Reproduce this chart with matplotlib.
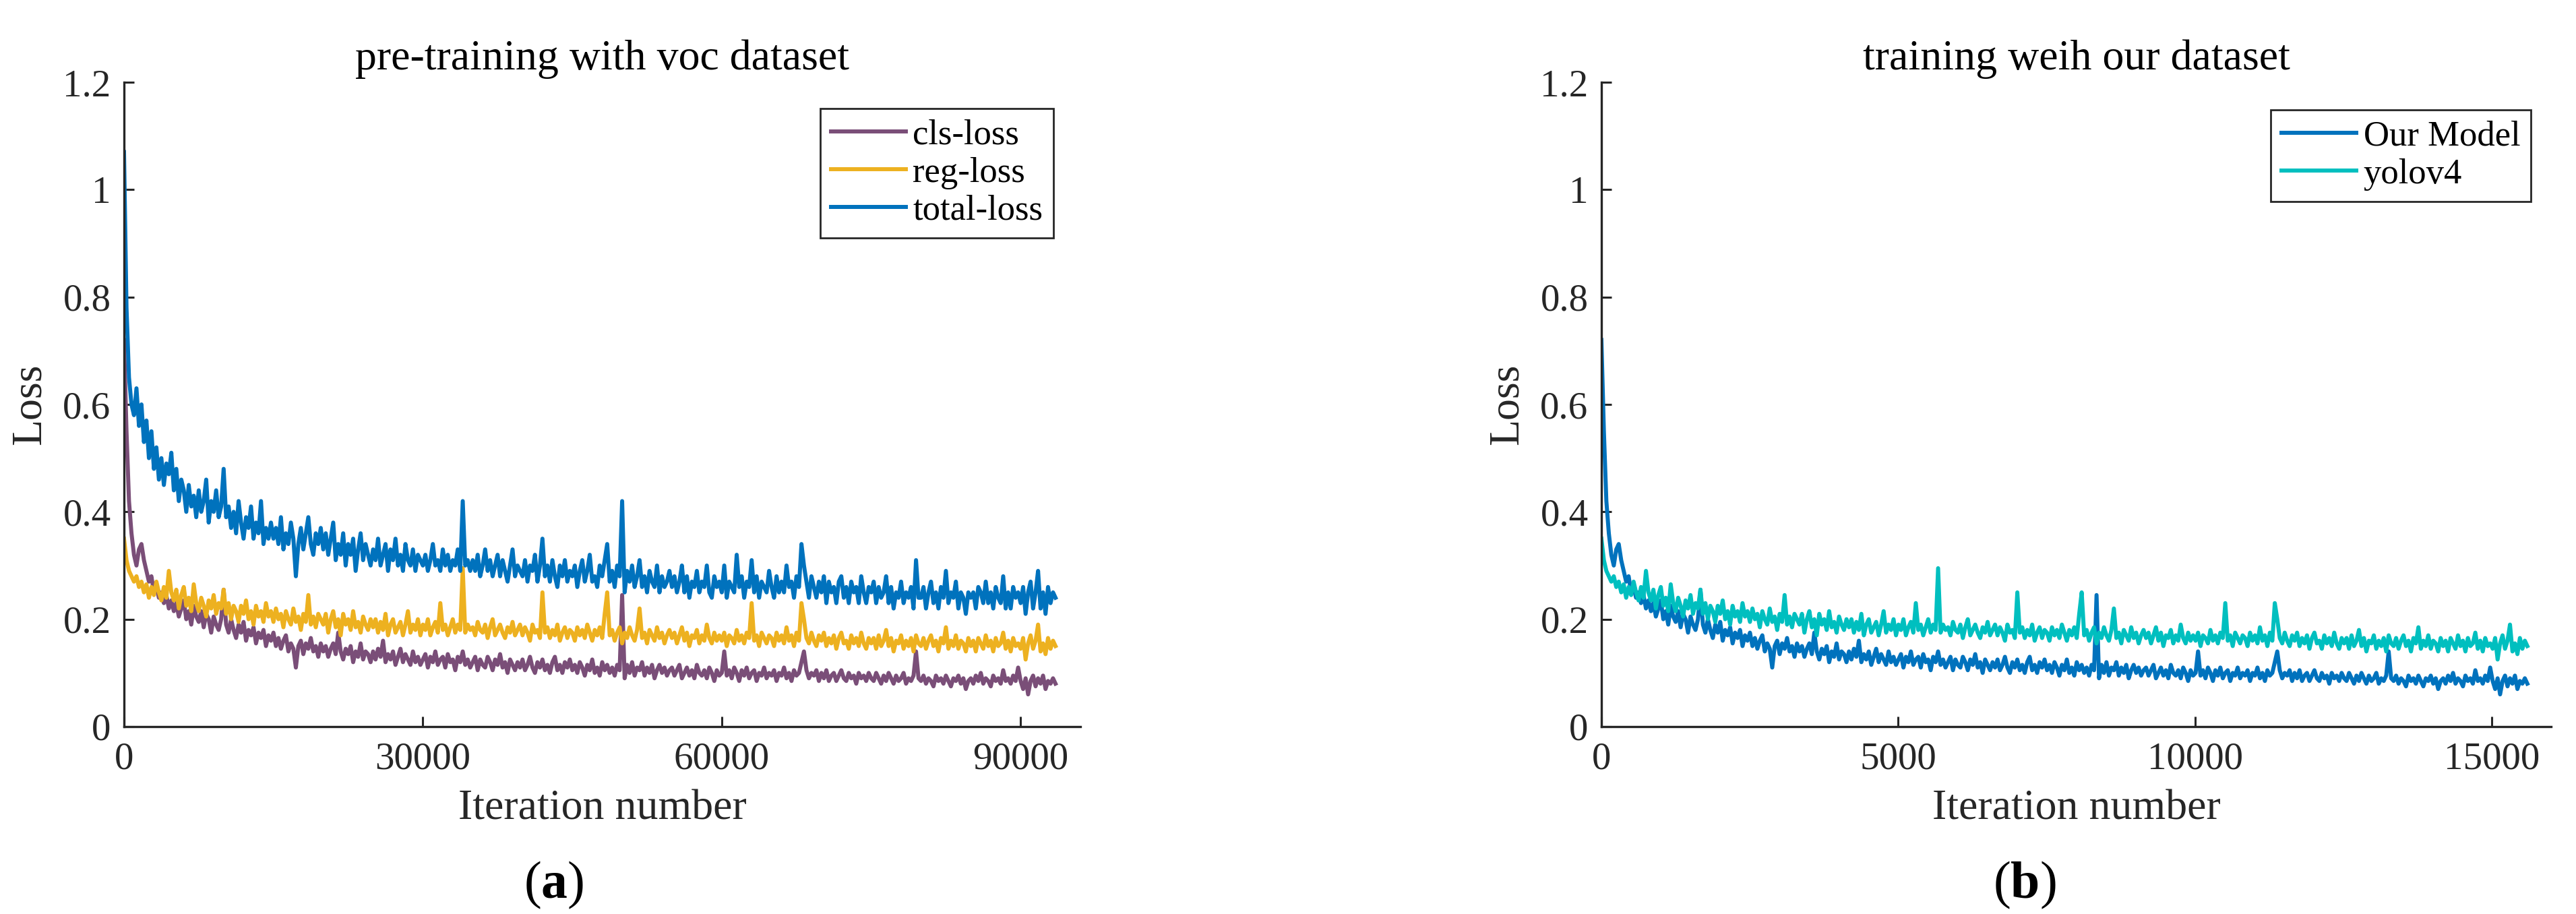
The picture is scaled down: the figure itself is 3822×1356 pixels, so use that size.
import numpy as np
import matplotlib
matplotlib.use("Agg")
import matplotlib.pyplot as plt

plt.rcParams['font.family'] = ['Liberation Serif', 'DejaVu Serif']
plt.rcParams['mathtext.fontset'] = 'custom'
plt.rcParams['mathtext.rm'] = 'Liberation Serif'
plt.rcParams['mathtext.bf'] = 'Liberation Serif:bold'

# ---------------- data ----------------
pre_last_iter = 93500      # panel (a) last iteration
our_last_iter = 15600      # panel (b) last iteration

# one value every 250 iterations (panel a)
cls_loss = [
    0.72, 0.55, 0.42, 0.36, 0.32, 0.30, 0.33, 0.34, 0.31, 0.29, 0.27, 0.28, 0.25, 0.26, 0.24, 0.25, 0.23, 0.245, 0.22, 0.235,
    0.215, 0.23, 0.205, 0.22, 0.235, 0.20, 0.215, 0.19, 0.225, 0.205, 0.195, 0.215, 0.185, 0.21, 0.20, 0.175, 0.205, 0.19, 0.18, 0.20,
    0.255, 0.19, 0.175, 0.20, 0.18, 0.165, 0.19, 0.175, 0.195, 0.16, 0.18, 0.17, 0.185, 0.155, 0.175, 0.165, 0.18, 0.15, 0.17, 0.16,
    0.175, 0.15, 0.165, 0.145, 0.16, 0.17, 0.14, 0.155, 0.145, 0.11, 0.15, 0.16, 0.135, 0.155, 0.145, 0.165, 0.14, 0.15, 0.13, 0.155,
    0.14, 0.15, 0.13, 0.145, 0.155, 0.135, 0.175, 0.14, 0.125, 0.145, 0.135, 0.15, 0.12, 0.14, 0.13, 0.155, 0.125, 0.14, 0.135, 0.12,
    0.14, 0.125, 0.145, 0.13, 0.16, 0.12, 0.135, 0.125, 0.14, 0.115, 0.13, 0.145, 0.12, 0.135, 0.125, 0.115, 0.14, 0.12, 0.13, 0.115,
    0.125, 0.135, 0.11, 0.13, 0.12, 0.14, 0.115, 0.125, 0.13, 0.11, 0.135, 0.12, 0.125, 0.105, 0.13, 0.12, 0.14, 0.115, 0.125, 0.11,
    0.12, 0.13, 0.105, 0.125, 0.115, 0.11, 0.13, 0.12, 0.105, 0.125, 0.115, 0.135, 0.11, 0.12, 0.10, 0.125, 0.115, 0.105, 0.12, 0.11,
    0.125, 0.105, 0.115, 0.13, 0.11, 0.10, 0.12, 0.11, 0.125, 0.105, 0.115, 0.10, 0.12, 0.13, 0.105, 0.115, 0.10, 0.12, 0.11, 0.125,
    0.105, 0.115, 0.10, 0.12, 0.11, 0.095, 0.115, 0.105, 0.125, 0.10, 0.11, 0.095, 0.12, 0.105, 0.115, 0.10, 0.11, 0.095, 0.115, 0.105,
    0.245, 0.09, 0.115, 0.10, 0.12, 0.095, 0.11, 0.105, 0.12, 0.095, 0.11, 0.10, 0.115, 0.09, 0.105, 0.115, 0.10, 0.11, 0.095, 0.105,
    0.11, 0.095, 0.105, 0.115, 0.09, 0.10, 0.11, 0.095, 0.105, 0.09, 0.115, 0.10, 0.095, 0.105, 0.09, 0.11, 0.10, 0.085, 0.105, 0.095,
    0.10, 0.14, 0.095, 0.105, 0.09, 0.11, 0.10, 0.085, 0.105, 0.095, 0.11, 0.09, 0.10, 0.105, 0.085, 0.10, 0.095, 0.11, 0.09, 0.10,
    0.095, 0.105, 0.085, 0.10, 0.095, 0.11, 0.09, 0.10, 0.085, 0.105, 0.095, 0.10, 0.12, 0.14, 0.105, 0.09, 0.10, 0.095, 0.105, 0.085,
    0.10, 0.09, 0.105, 0.085, 0.095, 0.10, 0.085, 0.095, 0.105, 0.09, 0.085, 0.10, 0.09, 0.095, 0.08, 0.10, 0.09, 0.095, 0.085, 0.10,
    0.09, 0.085, 0.10, 0.09, 0.08, 0.095, 0.085, 0.10, 0.09, 0.08, 0.095, 0.085, 0.09, 0.10, 0.08, 0.09, 0.085, 0.095, 0.14, 0.09,
    0.085, 0.095, 0.08, 0.09, 0.085, 0.075, 0.095, 0.085, 0.09, 0.08, 0.095, 0.085, 0.075, 0.09, 0.085, 0.095, 0.08, 0.09, 0.07, 0.085,
    0.09, 0.08, 0.095, 0.085, 0.10, 0.08, 0.09, 0.085, 0.075, 0.095, 0.085, 0.09, 0.08, 0.105, 0.085, 0.09, 0.08, 0.095, 0.085, 0.11,
    0.085, 0.07, 0.09, 0.06, 0.085, 0.095, 0.075, 0.09, 0.08, 0.095, 0.07, 0.085, 0.08, 0.09, 0.08,
]

reg_loss = [
    0.35, 0.31, 0.29, 0.28, 0.27, 0.28, 0.26, 0.27, 0.25, 0.265, 0.24, 0.26, 0.245, 0.27, 0.25, 0.235, 0.26, 0.24, 0.29, 0.25,
    0.235, 0.255, 0.22, 0.245, 0.26, 0.225, 0.24, 0.215, 0.265, 0.23, 0.215, 0.24, 0.225, 0.205, 0.235, 0.22, 0.245, 0.21, 0.23, 0.22,
    0.255, 0.21, 0.23, 0.20, 0.225, 0.215, 0.195, 0.225, 0.21, 0.235, 0.20, 0.215, 0.19, 0.225, 0.205, 0.215, 0.195, 0.23, 0.205, 0.215,
    0.195, 0.22, 0.20, 0.21, 0.185, 0.215, 0.20, 0.19, 0.22, 0.195, 0.205, 0.18, 0.21, 0.195, 0.245, 0.19, 0.205, 0.185, 0.21, 0.20,
    0.19, 0.21, 0.175, 0.20, 0.215, 0.185, 0.20, 0.17, 0.21, 0.19, 0.20, 0.18, 0.215, 0.185, 0.195, 0.175, 0.205, 0.19, 0.18, 0.20,
    0.185, 0.20, 0.175, 0.195, 0.18, 0.21, 0.17, 0.19, 0.20, 0.175, 0.185, 0.195, 0.17, 0.19, 0.215, 0.175, 0.19, 0.18, 0.20, 0.17,
    0.19, 0.18, 0.20, 0.17, 0.185, 0.195, 0.175, 0.23, 0.18, 0.19, 0.17, 0.185, 0.20, 0.175, 0.19, 0.18, 0.295, 0.175, 0.19, 0.18,
    0.185, 0.17, 0.195, 0.18, 0.175, 0.19, 0.165, 0.185, 0.20, 0.17, 0.18, 0.19, 0.175, 0.165, 0.185, 0.175, 0.195, 0.17, 0.18, 0.19,
    0.17, 0.185, 0.175, 0.16, 0.19, 0.175, 0.18, 0.165, 0.25, 0.175, 0.185, 0.165, 0.18, 0.17, 0.19, 0.16, 0.175, 0.185, 0.165, 0.18,
    0.175, 0.16, 0.185, 0.17, 0.18, 0.165, 0.19, 0.175, 0.16, 0.18, 0.17, 0.185, 0.165, 0.21, 0.25, 0.17, 0.18, 0.16, 0.175, 0.185,
    0.155, 0.175, 0.165, 0.185, 0.17, 0.16, 0.18, 0.22, 0.165, 0.175, 0.155, 0.18, 0.17, 0.16, 0.185, 0.165, 0.175, 0.155, 0.17, 0.18,
    0.165, 0.175, 0.155, 0.17, 0.185, 0.16, 0.175, 0.15, 0.17, 0.165, 0.18, 0.155, 0.17, 0.16, 0.19, 0.165, 0.155, 0.175, 0.16, 0.17,
    0.16, 0.175, 0.15, 0.17, 0.165, 0.155, 0.18, 0.16, 0.17, 0.155, 0.175, 0.165, 0.23, 0.16, 0.17, 0.15, 0.175, 0.165, 0.155, 0.17,
    0.165, 0.15, 0.175, 0.16, 0.17, 0.155, 0.185, 0.16, 0.17, 0.15, 0.175, 0.16, 0.23, 0.20, 0.165, 0.155, 0.175, 0.16, 0.15, 0.17,
    0.16, 0.175, 0.15, 0.165, 0.155, 0.17, 0.145, 0.165, 0.175, 0.155, 0.16, 0.145, 0.17, 0.155, 0.165, 0.15, 0.175, 0.155, 0.145, 0.165,
    0.155, 0.165, 0.145, 0.17, 0.15, 0.16, 0.18, 0.15, 0.165, 0.14, 0.16, 0.155, 0.17, 0.145, 0.16, 0.15, 0.165, 0.14, 0.17, 0.155,
    0.15, 0.165, 0.145, 0.16, 0.17, 0.15, 0.16, 0.14, 0.165, 0.155, 0.185, 0.145, 0.16, 0.15, 0.17, 0.145, 0.16, 0.155, 0.14, 0.165,
    0.15, 0.16, 0.14, 0.165, 0.155, 0.145, 0.17, 0.15, 0.16, 0.14, 0.165, 0.15, 0.155, 0.175, 0.145, 0.16, 0.14, 0.165, 0.15, 0.155,
    0.145, 0.165, 0.125, 0.155, 0.17, 0.145, 0.16, 0.19, 0.14, 0.155, 0.135, 0.165, 0.145, 0.16, 0.15,
]

total_loss = [
    1.07, 0.78, 0.65, 0.60, 0.58, 0.63, 0.56, 0.60, 0.53, 0.57, 0.50, 0.55, 0.48, 0.52, 0.46, 0.50, 0.45, 0.49, 0.47, 0.51,
    0.44, 0.48, 0.42, 0.46, 0.44, 0.40, 0.45, 0.41, 0.43, 0.39, 0.44, 0.40, 0.42, 0.46, 0.38, 0.42, 0.40, 0.44, 0.39, 0.41,
    0.48, 0.39, 0.41, 0.37, 0.40, 0.36, 0.42, 0.38, 0.35, 0.39, 0.37, 0.41, 0.35, 0.38, 0.36, 0.42, 0.34, 0.37, 0.35, 0.38,
    0.35, 0.37, 0.34, 0.39, 0.33, 0.36, 0.34, 0.38, 0.35, 0.28, 0.34, 0.37, 0.33, 0.36, 0.39, 0.34, 0.32, 0.36, 0.34, 0.37,
    0.33, 0.36, 0.32, 0.35, 0.38, 0.31, 0.34, 0.32, 0.36, 0.30, 0.34, 0.32, 0.35, 0.29, 0.33, 0.36, 0.31, 0.34, 0.32, 0.30,
    0.33, 0.31, 0.35, 0.30, 0.32, 0.34, 0.29, 0.33, 0.31, 0.35, 0.30, 0.32, 0.29, 0.34, 0.31, 0.30, 0.33, 0.29, 0.32, 0.31,
    0.30, 0.32, 0.29, 0.31, 0.34, 0.30, 0.31, 0.29, 0.33, 0.30, 0.32, 0.29, 0.31, 0.30, 0.33, 0.29, 0.42, 0.30, 0.31, 0.29,
    0.31, 0.29, 0.32, 0.28, 0.30, 0.33, 0.29, 0.31, 0.28, 0.30, 0.32, 0.28, 0.31, 0.29, 0.27, 0.30, 0.33, 0.28, 0.30, 0.29,
    0.28, 0.31, 0.27, 0.30, 0.29, 0.32, 0.27, 0.30, 0.35, 0.28, 0.30, 0.27, 0.31, 0.28, 0.26, 0.30, 0.28, 0.31, 0.27, 0.29,
    0.28, 0.30, 0.26, 0.29, 0.31, 0.27, 0.29, 0.32, 0.27, 0.28, 0.26, 0.30, 0.28, 0.31, 0.34, 0.27, 0.29, 0.26, 0.30, 0.28,
    0.42, 0.25, 0.29, 0.27, 0.30, 0.26, 0.28, 0.31, 0.26, 0.28, 0.25, 0.29, 0.27, 0.26, 0.30, 0.25, 0.28, 0.26, 0.27, 0.29,
    0.26, 0.28, 0.25, 0.27, 0.30, 0.25, 0.28, 0.24, 0.27, 0.26, 0.29, 0.25, 0.27, 0.26, 0.30, 0.25, 0.24, 0.28, 0.26, 0.27,
    0.25, 0.30, 0.24, 0.27, 0.26, 0.25, 0.32, 0.26, 0.28, 0.24, 0.27, 0.26, 0.31, 0.25, 0.28, 0.24, 0.27, 0.26, 0.25, 0.29,
    0.26, 0.24, 0.28, 0.25, 0.27, 0.25, 0.30, 0.26, 0.27, 0.24, 0.28, 0.26, 0.34, 0.30, 0.27, 0.24, 0.28, 0.26, 0.24, 0.27,
    0.25, 0.28, 0.23, 0.27, 0.25, 0.26, 0.23, 0.27, 0.28, 0.24, 0.26, 0.23, 0.27, 0.25, 0.26, 0.23, 0.28, 0.25, 0.23, 0.26,
    0.25, 0.27, 0.23, 0.26, 0.24, 0.25, 0.28, 0.23, 0.26, 0.22, 0.25, 0.24, 0.27, 0.23, 0.25, 0.24, 0.26, 0.22, 0.31, 0.24,
    0.24, 0.26, 0.22, 0.25, 0.27, 0.23, 0.25, 0.22, 0.26, 0.24, 0.29, 0.23, 0.25, 0.24, 0.27, 0.22, 0.25, 0.24, 0.21, 0.25,
    0.24, 0.25, 0.22, 0.26, 0.25, 0.23, 0.27, 0.23, 0.25, 0.22, 0.26, 0.24, 0.23, 0.28, 0.22, 0.25, 0.22, 0.26, 0.24, 0.25,
    0.23, 0.26, 0.21, 0.25, 0.27, 0.22, 0.25, 0.29, 0.22, 0.25, 0.21, 0.26, 0.23, 0.25, 0.24,
]

# panel (b): the curves have the same shape as cls/reg in panel (a)
our_model = cls_loss
yolov4 = reg_loss

pre_labels = ['cls-loss', 'reg-loss', 'total-loss']
our_labels = ['Our Model', 'yolov4']
ytick_vals = [0, 0.2, 0.4, 0.6, 0.8, 1.0, 1.2]
ytick_labels = ['0', '0.2', '0.4', '0.6', '0.8', '1', '1.2']
pre_xticks = [0, 30000, 60000, 90000]
our_xticks = [0, 5000, 10000, 15000]
titles = ['pre-training with voc dataset', 'training weih our dataset']
captions = ['a', 'b']

# ---------------- styling ----------------
W, H = 3823, 1356
DPI = 100
AX_COL = '#262626'
TICK_FS = 41
LABEL_FS = 46
LEG_FS = 38
CAP_FS = 56
LW = 4.3

c_cls = '#7A4E78'
c_reg = '#EDB120'
c_tot = '#0072BD'
c_our = '#0072BD'
c_yolo = '#00BFBF'

fig = plt.figure(figsize=(W / DPI, H / DPI), dpi=DPI)
axL = fig.add_axes([184 / W, 1 - 1078 / H, (1603 - 184) / W, (1078 - 122) / H])
axR = fig.add_axes([2376 / W, 1 - 1078 / H, (3785 - 2376) / W, (1078 - 122) / H])

axL.plot(np.linspace(0, pre_last_iter, len(cls_loss)), cls_loss, color=c_cls, lw=LW, label=pre_labels[0])
axL.plot(np.linspace(0, pre_last_iter, len(reg_loss)), reg_loss, color=c_reg, lw=LW, label=pre_labels[1])
axL.plot(np.linspace(0, pre_last_iter, len(total_loss)), total_loss, color=c_tot, lw=LW, label=pre_labels[2])

axR.plot(np.linspace(0, our_last_iter, len(our_model)), our_model, color=c_our, lw=LW, label=our_labels[0])
axR.plot(np.linspace(0, our_last_iter, len(yolov4)), yolov4, color=c_yolo, lw=LW, label=our_labels[1])

for ax, xt, xmax, title in [(axL, pre_xticks, 96000, titles[0]),
                             (axR, our_xticks, 16000, titles[1])]:
    ax.set_xlim(0, xmax)
    ax.set_ylim(0, 1.2)
    ax.set_xticks(xt)
    ax.set_xticklabels([str(v) for v in xt])
    ax.set_yticks(ytick_vals)
    ax.set_yticklabels(ytick_labels)
    for s in ['top', 'right']:
        ax.spines[s].set_visible(False)
    for s in ['left', 'bottom']:
        ax.spines[s].set_linewidth(2.4)
        ax.spines[s].set_color(AX_COL)
    ax.tick_params(axis='both', direction='in', length=11, width=2.2,
                   colors=AX_COL, labelsize=TICK_FS)
    ax.tick_params(axis='x', pad=16)
    ax.tick_params(axis='y', pad=14)
    ax.set_xlabel('Iteration number', fontsize=LABEL_FS, color=AX_COL, labelpad=14)
    ax.set_ylabel('Loss', fontsize=LABEL_FS, color=AX_COL, labelpad=14)
    ax.set_title(title, fontsize=LABEL_FS, color='black', pad=14)

legL = axL.legend(loc='upper right', bbox_to_anchor=(1563 / W, 1 - 161 / H),
                  bbox_transform=fig.transFigure, fontsize=LEG_FS, frameon=True,
                  fancybox=False, framealpha=1, edgecolor=AX_COL,
                  handlelength=2.1, handletextpad=0.2, borderpad=0.3,
                  labelspacing=0.15, borderaxespad=0)
legR = axR.legend(loc='upper right', bbox_to_anchor=(3755 / W, 1 - 163 / H),
                  bbox_transform=fig.transFigure, fontsize=LEG_FS, frameon=True,
                  fancybox=False, framealpha=1, edgecolor=AX_COL,
                  handlelength=2.1, handletextpad=0.2, borderpad=0.3,
                  labelspacing=0.15, borderaxespad=0)
for leg in (legL, legR):
    leg.get_frame().set_linewidth(2.0)
    for ln in leg.get_lines():
        ln.set_linewidth(4.3)

# sub-figure captions (a), (b)
for cx, cap in [(822 / W, captions[0]), (3004 / W, captions[1])]:
    fig.text(cx, 1 - 1332 / H, '(' + r'$\mathbf{' + cap + '}$' + ')',
             ha='center', va='baseline', fontsize=CAP_FS, color='black')

fig.savefig('out.png', dpi=DPI)
